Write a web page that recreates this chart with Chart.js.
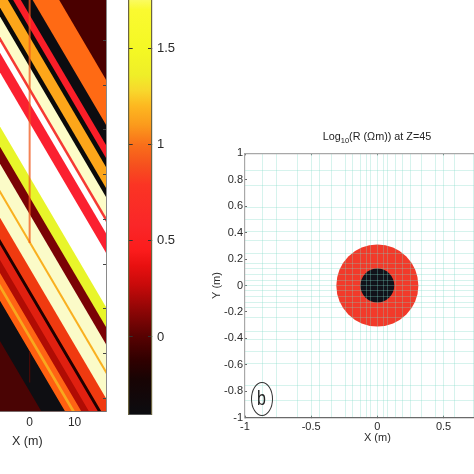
<!DOCTYPE html>
<html>
<head>
<meta charset="utf-8">
<title>Log10(R) slices</title>
<script src="https://cdn.jsdelivr.net/npm/chart.js@4"></script>
<style>
  html, body { margin: 0; padding: 0; width: 474px; height: 474px; overflow: hidden; background: #fff; }
  canvas { position: absolute; }
  #title { position: absolute; left: 277px; width: 200px; top: 130px; text-align: center;
           font: 10.8px "Liberation Sans", sans-serif; color: #222; white-space: nowrap; }
  #title sub { font-size: 7.5px; line-height: 0; }
  #tag { position: absolute; left: 251px; top: 382px; width: 20px; height: 32px; border: 1px solid #333;
         border-radius: 50%; text-align: center; font: 20px/31px "Liberation Sans", sans-serif; color: #222; }
  #tag span { display: inline-block; transform: scaleX(0.8); }
  #xname { position: absolute; left: 12px; top: 434px; font: 12.5px "Liberation Sans", sans-serif; color: #2a2a2a; }
</style>
</head>
<body>
<canvas id="stripes" width="110" height="452" style="left:0;top:0"></canvas>
<canvas id="colorbar" width="60" height="430" style="left:125px;top:0"></canvas>
<canvas id="slice" width="330" height="340" style="left:200px;top:120px"></canvas>
<div id="xname">X (m)</div>
<div id="title">Log<sub>10</sub>(R (&Omega;m)) at Z=45</div>
<div id="tag"><span>b</span></div>
<script>
// panel a: stripes, each colour fills below its edge line (Y at left and right side of the plot)
const stripeColors = ['#4a0000', '#ff6a14', '#0c0c10', '#fa1e28', '#0a0a0a', '#fda61a', '#0a0a0a', '#fdfcc8',
  '#f53a34', '#ffffff', '#fb2030', '#ffffff', '#e8f52a', '#7a0205', '#fbfbc8', '#f9b020', '#fbfbc8',
  '#f03a10', '#200000', '#e02010', '#b00c04', '#ff6414', '#f8a81e', '#ff6010', '#0e0e12', '#4a0404'];
const stripeLeftY = [120, 82.2, 72.1, 67.6, 64.7, 62.7, 58, 56, 51.5, 50.4, 47.9, 43.5, 31.4, 26.9, 23.1,
  17.3, 16.4, 11, 6.3, 5, 1.6, -1.3, -3.7, -4.9, -7.5, -16.5];
const stripeRightY = [120, 41.2, 31.1, 26.6, 23.7, 21.7, 17, 15, 10.5, 9.4, 6.9, 2.5, -9.6, -14.1, -17.9,
  -23.7, -24.6, -30, -34.7, -36, -39.4, -42.3, -44.7, -45.9, -48.5, -57.5];
const stripeX = [-7, 17];
const stripeXTicks = [0, 10];
const stripeYTicks = [-30, -20, -10, 0, 10, 20, 30, 40, 50];
const seamX = [0, 0];
const seamUpperY = [4.7, 60];
const seamLowerY = [-26.5, -19.6];

// colour bar
const barTicks = [0, 0.5, 1, 1.5];
const barRange = [-0.4, 1.75];
const barValues = [1.75, 1.7, 1.49, 1.36, 1.28, 1.2, 1.1, 1.0, 0.89, 0.79, 0.58, 0.45, 0.37, 0.27, 0.14, 0.01, -0.12, -0.22, -0.4];
const barColors = ['#fbfb60', '#fafa30', '#f4f824', '#efee28', '#f8d82c', '#fdb820', '#fb9a1c', '#f9701a', '#f6501e',
  '#fb3424', '#fa2628', '#fb1c1c', '#e81010', '#c80a0a', '#8f0606', '#5a0202', '#300000', '#180404', '#0c0c10'];

// panel b: slice at Z=45
const sliceTicks = [-1, -0.5, 0, 0.5, 1];
const sliceYTicks = [-1, -0.8, -0.6, -0.4, -0.2, 0, 0.2, 0.4, 0.6, 0.8, 1];
const gridXLines = [-0.87, -0.76, -0.6, -0.5, -0.44, -0.35, -0.24, -0.19, -0.13, -0.08, -0.05, 0, 0.05, 0.08, 0.14, 0.19, 0.25, 0.33, 0.44, 0.5, 0.58, 0.73];
const gridYLines = [-0.87, -0.76, -0.59, -0.5, -0.41, -0.35, -0.24, -0.17, -0.13, -0.08, -0.04, 0, 0.04, 0.08, 0.13, 0.17, 0.24, 0.34, 0.41, 0.5, 0.59, 0.76, 0.87];
const circleRadius = [0.31, 0.128];
const circleColors = ['#f23a2a', '#11121a'];
const circleX = [0, 0];
const circleY = [0, 0];

const textFont = { family: '"Liberation Sans", sans-serif', size: 12 };
const textColor = '#2a2a2a';
const gridColor = 'rgba(120,215,195,0.3)';

function useTicks(list) {
  return function (scale) {
    scale.ticks = list.map(function (v) { return { value: v }; });
  };
}
// keep the plot box where it is, whatever the labels need
function fixSize(prop, size) {
  return function (scale) {
    scale[prop] = size;
    scale.paddingTop = 0;
    scale.paddingBottom = 0;
    scale.paddingLeft = 0;
    scale.paddingRight = 0;
  };
}
function plainLabel(v) {
  return String(v);
}

// panel a
const stripeSets = stripeColors.map(function (color, i) {
  return {
    data: stripeX.map(function (x, k) { return { x: x, y: k === 0 ? stripeLeftY[i] : stripeRightY[i] }; }),
    showLine: true,
    fill: 'start',
    backgroundColor: color,
    borderWidth: 0,
    pointRadius: 0,
    order: stripeColors.length - i + 2
  };
});
stripeSets.push({
  data: seamX.map(function (x, k) { return { x: x, y: seamUpperY[k] }; }),
  showLine: true, borderColor: 'rgba(240,90,30,0.75)', borderWidth: 2, pointRadius: 0, order: 1
});
stripeSets.push({
  data: seamX.map(function (x, k) { return { x: x, y: seamLowerY[k] }; }),
  showLine: true, borderColor: '#4a0a08', borderWidth: 1.2, pointRadius: 0, order: 1
});

new Chart(document.getElementById('stripes'), {
  type: 'scatter',
  data: { datasets: stripeSets },
  options: {
    responsive: false,
    animation: false,
    layout: { padding: { right: 4 } },
    plugins: { legend: { display: false }, tooltip: { enabled: false } },
    scales: {
      x: {
        type: 'linear', min: -6.6, max: 17,
        afterBuildTicks: useTicks(stripeXTicks),
        afterFit: fixSize('height', 40.3),
        grid: { display: false, drawTicks: false },
        border: { color: '#7a6a6a', width: 1, z: 2 },
        ticks: { font: textFont, color: textColor, padding: 4, maxRotation: 0, autoSkip: false }
      },
      y: {
        type: 'linear', position: 'right', min: -33, max: 59,
        afterBuildTicks: useTicks(stripeYTicks),
        afterFit: fixSize('width', 0),
        grid: { drawOnChartArea: false, tickLength: -3, color: '#444', z: 1 },
        border: { color: '#8a8a8a', width: 1, z: 2 },
        ticks: { display: false }
      }
    }
  }
});

// colour bar, one floating bar with the colours as a gradient
new Chart(document.getElementById('colorbar'), {
  type: 'bar',
  data: {
    labels: [''],
    datasets: [{
      data: [barRange],
      barPercentage: 1,
      categoryPercentage: 1,
      backgroundColor: function (ctx) {
        const area = ctx.chart.chartArea;
        if (!area) return barColors[0];
        const scale = ctx.chart.scales.y;
        const g = ctx.chart.ctx.createLinearGradient(0, area.top, 0, area.bottom);
        barValues.forEach(function (v, i) {
          const t = (scale.getPixelForValue(v) - area.top) / (area.bottom - area.top);
          g.addColorStop(Math.min(1, Math.max(0, t)), barColors[i]);
        });
        return g;
      }
    }]
  },
  options: {
    responsive: false,
    animation: false,
    layout: { padding: { left: 3.7, right: 0, top: 0, bottom: 16 } },
    plugins: { legend: { display: false }, tooltip: { enabled: false } },
    scales: {
      x: {
        grid: { display: false },
        border: { color: '#555', width: 1, z: 2 },
        ticks: { display: false },
        afterFit: fixSize('height', 0)
      },
      y: {
        position: 'right', min: barRange[0], max: barRange[1],
        afterBuildTicks: useTicks(barTicks),
        afterFit: fixSize('width', 33),
        grid: { drawOnChartArea: false, tickLength: -4, color: '#333', z: 1 },
        border: { color: '#6b6440', width: 1.2, z: 2 },
        ticks: {
          font: { family: textFont.family, size: 13 }, color: textColor, padding: 9, align: 'center',
          callback: plainLabel
        }
      },
      yLeft: {
        position: 'left', min: barRange[0], max: barRange[1],
        afterBuildTicks: useTicks(barTicks),
        afterFit: fixSize('width', 0),
        grid: { drawOnChartArea: false, tickLength: -4, color: '#333', z: 1 },
        border: { color: '#6b6440', width: 1.2, z: 2 },
        ticks: { display: false }
      }
    }
  }
});

// panel b, the canvas runs past the window on the right like the reference
const sliceFont = { family: textFont.family, size: 11 };

new Chart(document.getElementById('slice'), {
  type: 'scatter',
  data: {
    datasets: circleRadius.map(function (r, i) {
      return {
        data: [{ x: circleX[i], y: circleY[i] }],
        backgroundColor: circleColors[i],
        borderWidth: 0,
        order: circleRadius.length - i,
        pointRadius: function (ctx) {
          const s = ctx.chart.scales.x;
          return s.getPixelForValue(r) - s.getPixelForValue(0);
        }
      };
    })
  },
  options: {
    responsive: false,
    animation: false,
    layout: { padding: { left: 0, right: 20.3, top: 33.3, bottom: 0 } },
    plugins: { legend: { display: false }, tooltip: { enabled: false } },
    scales: {
      x: {
        type: 'linear', position: 'bottom', min: -1, max: 1,
        afterBuildTicks: useTicks(sliceTicks),
        afterFit: fixSize('height', 42.3),
        grid: { drawOnChartArea: false, tickLength: -2, color: '#666' },
        border: { color: '#6a6a6a', width: 1.2, z: 2 },
        ticks: { font: sliceFont, color: textColor, padding: 5, maxRotation: 0, autoSkip: false, callback: plainLabel },
        title: { display: true, text: 'X (m)', font: sliceFont, color: textColor, padding: { top: 0, bottom: 15.4 } }
      },
      xTop: {
        type: 'linear', position: 'top', min: -1, max: 1,
        afterBuildTicks: useTicks(sliceTicks),
        afterFit: fixSize('height', 0),
        grid: { drawOnChartArea: false, tickLength: -2, color: '#666' },
        border: { color: '#a8a8a8', width: 1.2, z: 2 },
        ticks: { display: false }
      },
      xGrid: {
        type: 'linear', position: 'bottom', min: -1, max: 1,
        afterBuildTicks: useTicks(gridXLines),
        afterFit: fixSize('height', 0),
        grid: { drawTicks: false, color: gridColor, z: 1 },
        border: { display: false },
        ticks: { display: false }
      },
      y: {
        type: 'linear', position: 'left', min: -1, max: 1,
        afterBuildTicks: useTicks(sliceYTicks),
        afterFit: fixSize('width', 45),
        grid: { drawOnChartArea: false, tickLength: -2, color: '#666' },
        border: { color: '#a8a8a8', width: 1.2, z: 2 },
        ticks: { font: sliceFont, color: textColor, padding: 4, autoSkip: false, callback: plainLabel },
        title: { display: true, text: 'Y (m)', font: sliceFont, color: textColor, padding: { top: 10, bottom: 0 } }
      },
      yGrid: {
        type: 'linear', position: 'left', min: -1, max: 1,
        afterBuildTicks: useTicks(gridYLines),
        afterFit: fixSize('width', 0),
        grid: { drawTicks: false, color: gridColor, z: 1 },
        border: { display: false },
        ticks: { display: false }
      }
    }
  }
});
</script>
</body>
</html>
